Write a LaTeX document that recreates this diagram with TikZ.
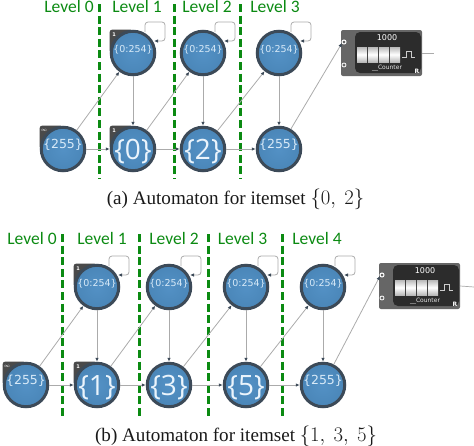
\documentclass[tikz,border=0pt]{standalone}
\usepackage{fontspec}
\setmainfont{Liberation Serif}
\newfontfamily\lvlfont{Carlito}
\newfontfamily\statefont{DejaVu Sans}
\newfontfamily\bigfont{Open Sans}
\usetikzlibrary{arrows.meta,calc}
\definecolor{lvlgreen}{HTML}{0B8A12}
\definecolor{statefill}{HTML}{5391C5}
\definecolor{stateouter}{HTML}{4A86B8}
\definecolor{stateedge}{HTML}{3C4A58}
\definecolor{statetext}{HTML}{D8EAF8}
\definecolor{bigtext}{HTML}{EAF4FC}
\definecolor{linkgray}{HTML}{ABABAB}
\definecolor{boxgray}{HTML}{666666}
\definecolor{boxdark}{HTML}{2C2C2C}
\definecolor{markgray}{HTML}{4A4A4A}
\tikzset{
  x=1pt,y=-1pt,
  state/.style={circle,draw=stateedge,line width=3pt,inner color=statefill,outer color=stateouter,minimum size=43.5pt,inner sep=0pt,text=statetext,font=\statefont\fontsize{9.5}{10}\selectfont},
  big/.style={text=bigtext,font=\fontsize{28}{28}\selectfont},
  mid/.style={font=\statefont\fontsize{12.5}{12.5}\selectfont},
  link/.style={draw=linkgray,line width=0.8pt,-{Latex[length=4pt,width=3.5pt,color=stateedge]}},
  divider/.style={draw=lvlgreen,line width=3pt,dash pattern=on 8pt off 3.6pt},
  lvl/.style={text=lvlgreen,font=\lvlfont\fontsize{17.5}{17.5}\selectfont,inner sep=0pt},
  capt/.style={font=\fontsize{19.1}{21}\selectfont,inner sep=0pt,text=black!90},
  tiny/.style={text=white,font=\statefont\bfseries\fontsize{5}{5}\selectfont,inner sep=0pt},
  counterbox/.style={fill=boxgray,rounded corners=2pt},
}
\newcommand{\startmark}[4]{% name, x, y, label
  \fill[markgray,rounded corners=3pt] (#2,#3) -- (#2-23.5,#3) -- (#2-23.5,#3-23.5) -- (#2,#3-23.5) -- cycle;
  \node[tiny] (#1m) at (#2-19,#3-18.5) {#4};
}
\newcommand{\selfloop}[1]{%
  \draw[link,rounded corners=3pt] ([shift={(12,-21)}]#1.center) -- ([shift={(12,-31)}]#1.center) -- ([shift={(32,-31)}]#1.center) -- ([shift={(32,-12)}]#1.center) -- ([shift={(21,-12)}]#1.center);
}
\newcommand{\counterunit}[5]{% name, left, top, wire end x, wire y
  \fill[counterbox] (#2,#3) rectangle ++(81,46);
  \fill[boxdark,rounded corners=5pt] (#2+14,#3+2) rectangle ++(66,41);
  \foreach \k in {0,1,2,3}{
    \shade[top color=gray!55,bottom color=gray!55,middle color=white] (#2+16+\k*11,#3+17) rectangle ++(10,15);
  }
  \draw[white!80!black,line width=0.7pt] (#2+61,#3+27) -- ++(4,0) -- ++(0,-6) -- ++(5,0) -- ++(0,6) -- ++(4,0);
  \node[inner sep=0pt,text=white,font=\statefont\fontsize{8}{8}\selectfont] (#1v) at (#2+46,#3+8) {1000};
  \node[inner sep=0pt,text=white!90!black,font=\statefont\fontsize{6}{6}\selectfont] (#1c) at (#2+46,#3+38) {\_\_Counter};
  \node[tiny,font=\statefont\bfseries\fontsize{6}{6}\selectfont] (#1r) at (#2+76,#3+41) {R};
  \draw[white,line width=1pt] (#2+3,#3+12) circle (2pt);
  \draw[white,line width=0.8pt] (#2+3,#3+35) circle (2pt);
  \coordinate (#1in) at (#2+1,#3+13);
  \coordinate (#1out) at (#2+81,#3+23);
  \coordinate (#1end) at (#4,#5);
  \draw[linkgray,line width=0.7pt] (#1out) -- (#1end);
}
\newcommand{\stxt}[1]{\raisebox{0.5pt}[0pt][0pt]{#1}}
\newcommand{\btxt}[1]{\raisebox{-10pt}[0pt][0pt]{\bigfont #1}}
\begin{document}
\begin{tikzpicture}
\useasboundingbox (0,0) rectangle (474,445);
% ---------- automaton (a)
\node[lvl] (la0) at (69,6) {Level 0};
\node[lvl] (la1) at (137,6) {Level 1};
\node[lvl] (la2) at (207,6) {Level 2};
\node[lvl] (la3) at (275,6) {Level 3};
\coordinate (da1t) at (99,4); \coordinate (da1b) at (99,179);
\coordinate (da2t) at (174,4); \coordinate (da2b) at (174,179);
\coordinate (da3t) at (240,4); \coordinate (da3b) at (240,179);
\draw[divider] (da1t) -- (da1b);
\draw[divider] (da2t) -- (da2b);
\draw[divider] (da3t) -- (da3b);
\startmark{sa}{63}{149}{$\infty$}
\startmark{ta1}{133}{53}{1}
\startmark{ba1}{133}{149}{1}
\node[state,mid] (a0) at (63,149) {\stxt{\{255\}}};
\node[state] (t1) at (133,53) {\stxt{\{0:254\}}};
\node[state] (t2) at (203,53) {\stxt{\{0:254\}}};
\node[state] (t3) at (279,53) {\stxt{\{0:254\}}};
\node[state,big] (b1) at (133,149) {\btxt{\{0\}}};
\node[state,big] (b2) at (203,149) {\btxt{\{2\}}};
\node[state,mid] (b3) at (279,149) {\stxt{\{255\}}};
\selfloop{t1}\selfloop{t2}\selfloop{t3}
\draw[link] (a0) -- (t1);
\draw[link] (a0) -- (b1);
\draw[link] (b1) -- (t2);
\draw[link] (t1) -- (b1);
\draw[link] (b1) -- (b2);
\draw[link] (t2) -- (b2);
\draw[link] (b2) -- (t3);
\draw[link] (b2) -- (b3);
\draw[link] (t3) -- (b3);
\counterunit{ca}{341}{30}{434}{53}
\draw[link] (b3) -- (cain);
\node[capt] (capa) at (235.5,199) {(a) Automaton for itemset $\{0,\ 2\}$};
% ---------- automaton (b)
\node[lvl] (lb0) at (32,238.5) {Level 0};
\node[lvl] (lb1) at (102,238.5) {Level 1};
\node[lvl] (lb2) at (174,238.5) {Level 2};
\node[lvl] (lb3) at (242.5,238.5) {Level 3};
\node[lvl] (lb4) at (317,238.5) {Level 4};
\coordinate (db1t) at (62,234); \coordinate (db1b) at (62,416);
\coordinate (db2t) at (139,234); \coordinate (db2b) at (139,416);
\coordinate (db3t) at (208,234); \coordinate (db3b) at (208,416);
\coordinate (db4t) at (282,234); \coordinate (db4b) at (282,416);
\draw[divider] (db1t) -- (db1b);
\draw[divider] (db2t) -- (db2b);
\draw[divider] (db3t) -- (db3b);
\draw[divider] (db4t) -- (db4b);
\startmark{sb}{26}{385}{$\infty$}
\startmark{tb1}{97}{287}{1}
\startmark{bb1}{97}{385}{1}
\node[state,mid] (e0) at (26,385) {\stxt{\{255\}}};
\node[state] (u1) at (97,287) {\stxt{\{0:254\}}};
\node[state] (u2) at (169,287) {\stxt{\{0:254\}}};
\node[state] (u3) at (246,287) {\stxt{\{0:254\}}};
\node[state] (u4) at (323,287) {\stxt{\{0:254\}}};
\node[state,big] (v1) at (97,385) {\btxt{\{1\}}};
\node[state,big] (v2) at (169,385) {\btxt{\{3\}}};
\node[state,big] (v3) at (246,385) {\btxt{\{5\}}};
\node[state,mid] (v4) at (323,385) {\stxt{\{255\}}};
\selfloop{u1}\selfloop{u2}\selfloop{u3}\selfloop{u4}
\draw[link] (e0) -- (u1);
\draw[link] (e0) -- (v1);
\draw[link] (u1) -- (v1);
\draw[link] (v1) -- (u2);
\draw[link] (v1) -- (v2);
\draw[link] (u2) -- (v2);
\draw[link] (v2) -- (u3);
\draw[link] (v2) -- (v3);
\draw[link] (u3) -- (v3);
\draw[link] (v3) -- (u4);
\draw[link] (v3) -- (v4);
\draw[link] (u4) -- (v4);
\counterunit{cb}{379}{263}{474}{287}
\draw[link] (v4) -- (cbin);
\node[capt] (capb) at (236,436) {(b) Automaton for itemset $\{1,\ 3,\ 5\}$};
\end{tikzpicture}
\end{document}
